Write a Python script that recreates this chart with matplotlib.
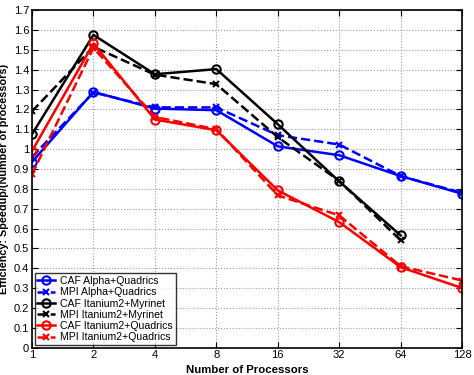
import matplotlib
matplotlib.use("Agg")
import matplotlib.pyplot as plt

plt.rcParams["font.family"] = ["Liberation Sans", "DejaVu Sans"]

procs = [1, 2, 4, 8, 16, 32, 64, 128]
caf_alpha = [0.935, 1.288, 1.204, 1.196, 1.014, 0.969, 0.864, 0.775]
mpi_alpha = [0.96, 1.285, 1.21, 1.21, 1.07, 1.023, 0.864, 0.78]
caf_it_myr = [1.075, 1.575, 1.377, 1.403, 1.125, 0.837, 0.565]
mpi_it_myr = [1.19, 1.515, 1.375, 1.327, 1.06, 0.84, 0.54]
caf_it_quad = [0.99, 1.532, 1.149, 1.095, 0.792, 0.632, 0.405, 0.30]
mpi_it_quad = [0.873, 1.51, 1.162, 1.10, 0.767, 0.666, 0.41, 0.338]
tick_labels = ["1", "2", "4", "8", "16", "32", "64", "128"]

fig = plt.figure(figsize=(4.74, 3.75), dpi=100)
ax = fig.add_axes([0.0675, 0.073, 0.9075, 0.9])

lw = 1.8
ax.plot(procs, caf_alpha, "-o", color="blue", lw=lw, mfc="none", mew=1.5, ms=6, label="CAF Alpha+Quadrics")
ax.plot(procs, mpi_alpha, "--x", color="blue", lw=lw, mew=1.5, ms=5, label="MPI Alpha+Quadrics")
ax.plot(procs[:7], caf_it_myr, "-o", color="black", lw=lw, mfc="none", mew=1.5, ms=6, label="CAF Itanium2+Myrinet")
ax.plot(procs[:7], mpi_it_myr, "--x", color="black", lw=lw, mew=1.5, ms=5, label="MPI Itanium2+Myrinet")
ax.plot(procs, caf_it_quad, "-o", color="red", lw=lw, mfc="none", mew=1.5, ms=6, label="CAF Itanium2+Quadrics")
ax.plot(procs, mpi_it_quad, "--x", color="red", lw=lw, mew=1.5, ms=5, label="MPI Itanium2+Quadrics")

ax.set_xscale("log", base=2)
ax.set_xlim(1, 128)
ax.set_ylim(0, 1.7)
ax.set_xticks(procs)
ax.set_xticklabels(tick_labels)
ax.set_yticks([i / 10 for i in range(18)])
ax.set_yticklabels(["0", "0.1", "0.2", "0.3", "0.4", "0.5", "0.6", "0.7", "0.8", "0.9", "1",
                    "1.1", "1.2", "1.3", "1.4", "1.5", "1.6", "1.7"])
ax.minorticks_off()
ax.tick_params(direction="in", labelsize=8, top=True, right=True, length=4, pad=2)
ax.grid(True, linestyle=":", color="#999999", linewidth=0.8)
for s in ax.spines.values():
    s.set_linewidth(1.2)

ax.set_xlabel("Number of Processors", fontsize=8.2, fontweight="bold")
ax.set_ylabel("Efficiency: Speedup/(Number of processors)", fontsize=7.8, fontweight="bold")
ax.xaxis.set_label_coords(0.5, -0.052)
ax.yaxis.set_label_coords(-0.053, 0.5)

leg = ax.legend(loc="lower left", fontsize=7.6, fancybox=False, edgecolor="black",
                handlelength=1.7, handletextpad=0.5, borderpad=0.25, labelspacing=0.12,
                borderaxespad=0.25)
leg.get_frame().set_linewidth(1.0)

fig.savefig("out.png", dpi=100)
